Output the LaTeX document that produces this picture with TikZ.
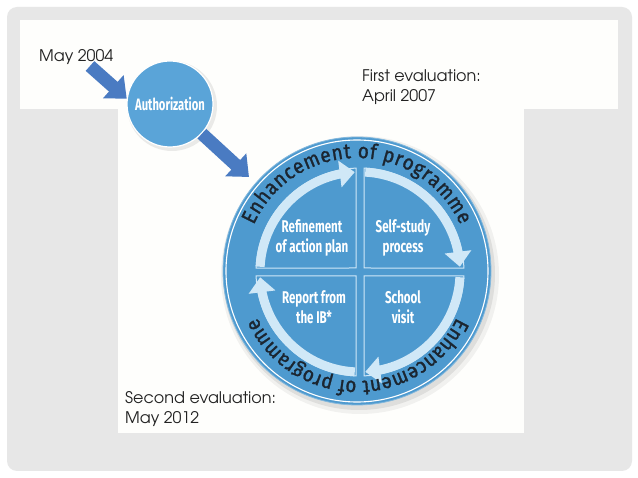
\documentclass[tikz,border=0pt]{standalone}
\usepackage{fontspec}
\usetikzlibrary{arrows.meta,bending,decorations.text,calc}
\newfontfamily\datefont{texgyreadventor-regular.otf}
\newfontfamily\condfont[FakeStretch=0.68]{Fira Sans}
\newfontfamily\ringfont[FakeBold=1.3,FakeStretch=0.9]{Fira Sans}
\definecolor{bggrey}{HTML}{E7E7E7}
\definecolor{paper}{HTML}{FEFEFC}
\definecolor{ibblue}{HTML}{4E9ACF}
\definecolor{authblue}{HTML}{5AA4D8}
\definecolor{arrowblue}{HTML}{4A7BC2}
\definecolor{palearrow}{HTML}{D0E8F7}
\definecolor{ringtext}{HTML}{1B2530}
\definecolor{datetext}{HTML}{222222}
\tikzset{
  datelabel/.style={font=\datefont\fontsize{16}{20}\selectfont, text=datetext, inner sep=0pt, align=left},
  quadtext/.style={font=\condfont\bfseries\fontsize{17}{20}\selectfont, text=white, align=center, inner sep=0pt},
  quadline/.style={draw=palearrow, line width=1pt},
  ringarrow/.style={draw=palearrow, line width=9pt, -{Triangle[width=26pt,length=15pt]}},
  bigarrow/.style={draw=arrowblue, line width=13pt, -{Triangle[width=30pt,length=18pt]}},
  ringlabel/.style={decorate, decoration={text along path, text align=fit to path, text color=ringtext,
    text={|\ringfont\fontsize{21}{21}\selectfont|Enhancement of programme}}},
}
\begin{document}
\begin{tikzpicture}[x=1pt,y=1pt]
\useasboundingbox (0,0) rectangle (638,-478);
\fill[white] (0,0) rectangle (638,-478);
\fill[bggrey, rounded corners=10pt] (7,-7) rectangle (632,-471);
\fill[paper] (20,-20) rectangle (618,-109);
\fill[paper] (118,-20) rectangle (524,-433);

% main cycle
\coordinate (C) at (357,-271);
\coordinate (Q) at (360,-272);
\fill[black, opacity=0.05] ($(C)+(3,-4)$) circle (139);
\fill[black, opacity=0.08] ($(C)+(2,-3)$) circle (136);
\node[circle, minimum size=268pt, inner sep=0pt, fill=ibblue, draw=ibblue!70!white, line width=0.8pt] (cycle) at (C) {};
\draw[white, line width=1.1pt] (C) circle (131);

% quadrants
\draw[quadline] ($(Q)+(-4,4)$) -- ++(0,99.9) arc[start angle=92.2,end angle=177.8,radius=104] -- cycle;
\draw[quadline] ($(Q)+(4,4)$) -- ++(0,99.9) arc[start angle=87.8,end angle=2.2,radius=104] -- cycle;
\draw[quadline] ($(Q)+(4,-4)$) -- ++(0,-99.9) arc[start angle=-87.8,end angle=-2.2,radius=104] -- cycle;
\draw[quadline] ($(Q)+(-4,-4)$) -- ++(0,-99.9) arc[start angle=-92.2,end angle=-177.8,radius=104] -- cycle;

% ring arrows
\draw[ringarrow] ($(Q)+(177:100)$) arc[start angle=177,end angle=93,radius=100];
\draw[ringarrow] ($(Q)+(87:100)$) arc[start angle=87,end angle=3,radius=100];
\draw[ringarrow] ($(Q)+(-3:100)$) arc[start angle=-3,end angle=-87,radius=100];
\draw[ringarrow] ($(Q)+(-93:100)$) arc[start angle=-93,end angle=-177,radius=100];

% ring text
\path[ringlabel] ($(C)+(156:113)$) arc[start angle=156,end angle=24,radius=113];
\path[ringlabel] ($(C)+(-25:110)$) arc[start angle=-25,end angle=-155,radius=110];

% quadrant labels
\node[quadtext] (refine) at (312,-238) {Refinement\\of action plan};
\node[quadtext] (self) at (403,-238) {Self-study\\process};
\node[quadtext] (report) at (314,-307) {Report from\\the IB*};
\node[quadtext] (visit) at (403,-307) {School\\visit};

% authorization
\fill[black, opacity=0.08] (172,-106) circle (45);
\node[circle, minimum size=86pt, inner sep=0pt, fill=authblue, draw=white, line width=1.2pt,
  font=\condfont\bfseries\fontsize{16.5}{18}\selectfont, text=white] (auth) at (170,-104) {Authorization};

% big arrows
\coordinate (a1start) at (90,-66);
\coordinate (a2end) at (249,-177);
\draw[bigarrow] (a1start) -- (auth.173);
\draw[bigarrow] (auth.-43) -- (a2end);

% dates
\node[datelabel, anchor=north west] (may04) at (39,-49) {May 2004};
\node[datelabel, anchor=north west] (first) at (362,-69) {First evaluation:\\April 2007};
\node[datelabel, anchor=north west] (second) at (125,-391) {Second evaluation:\\May 2012};
\end{tikzpicture}
\end{document}
